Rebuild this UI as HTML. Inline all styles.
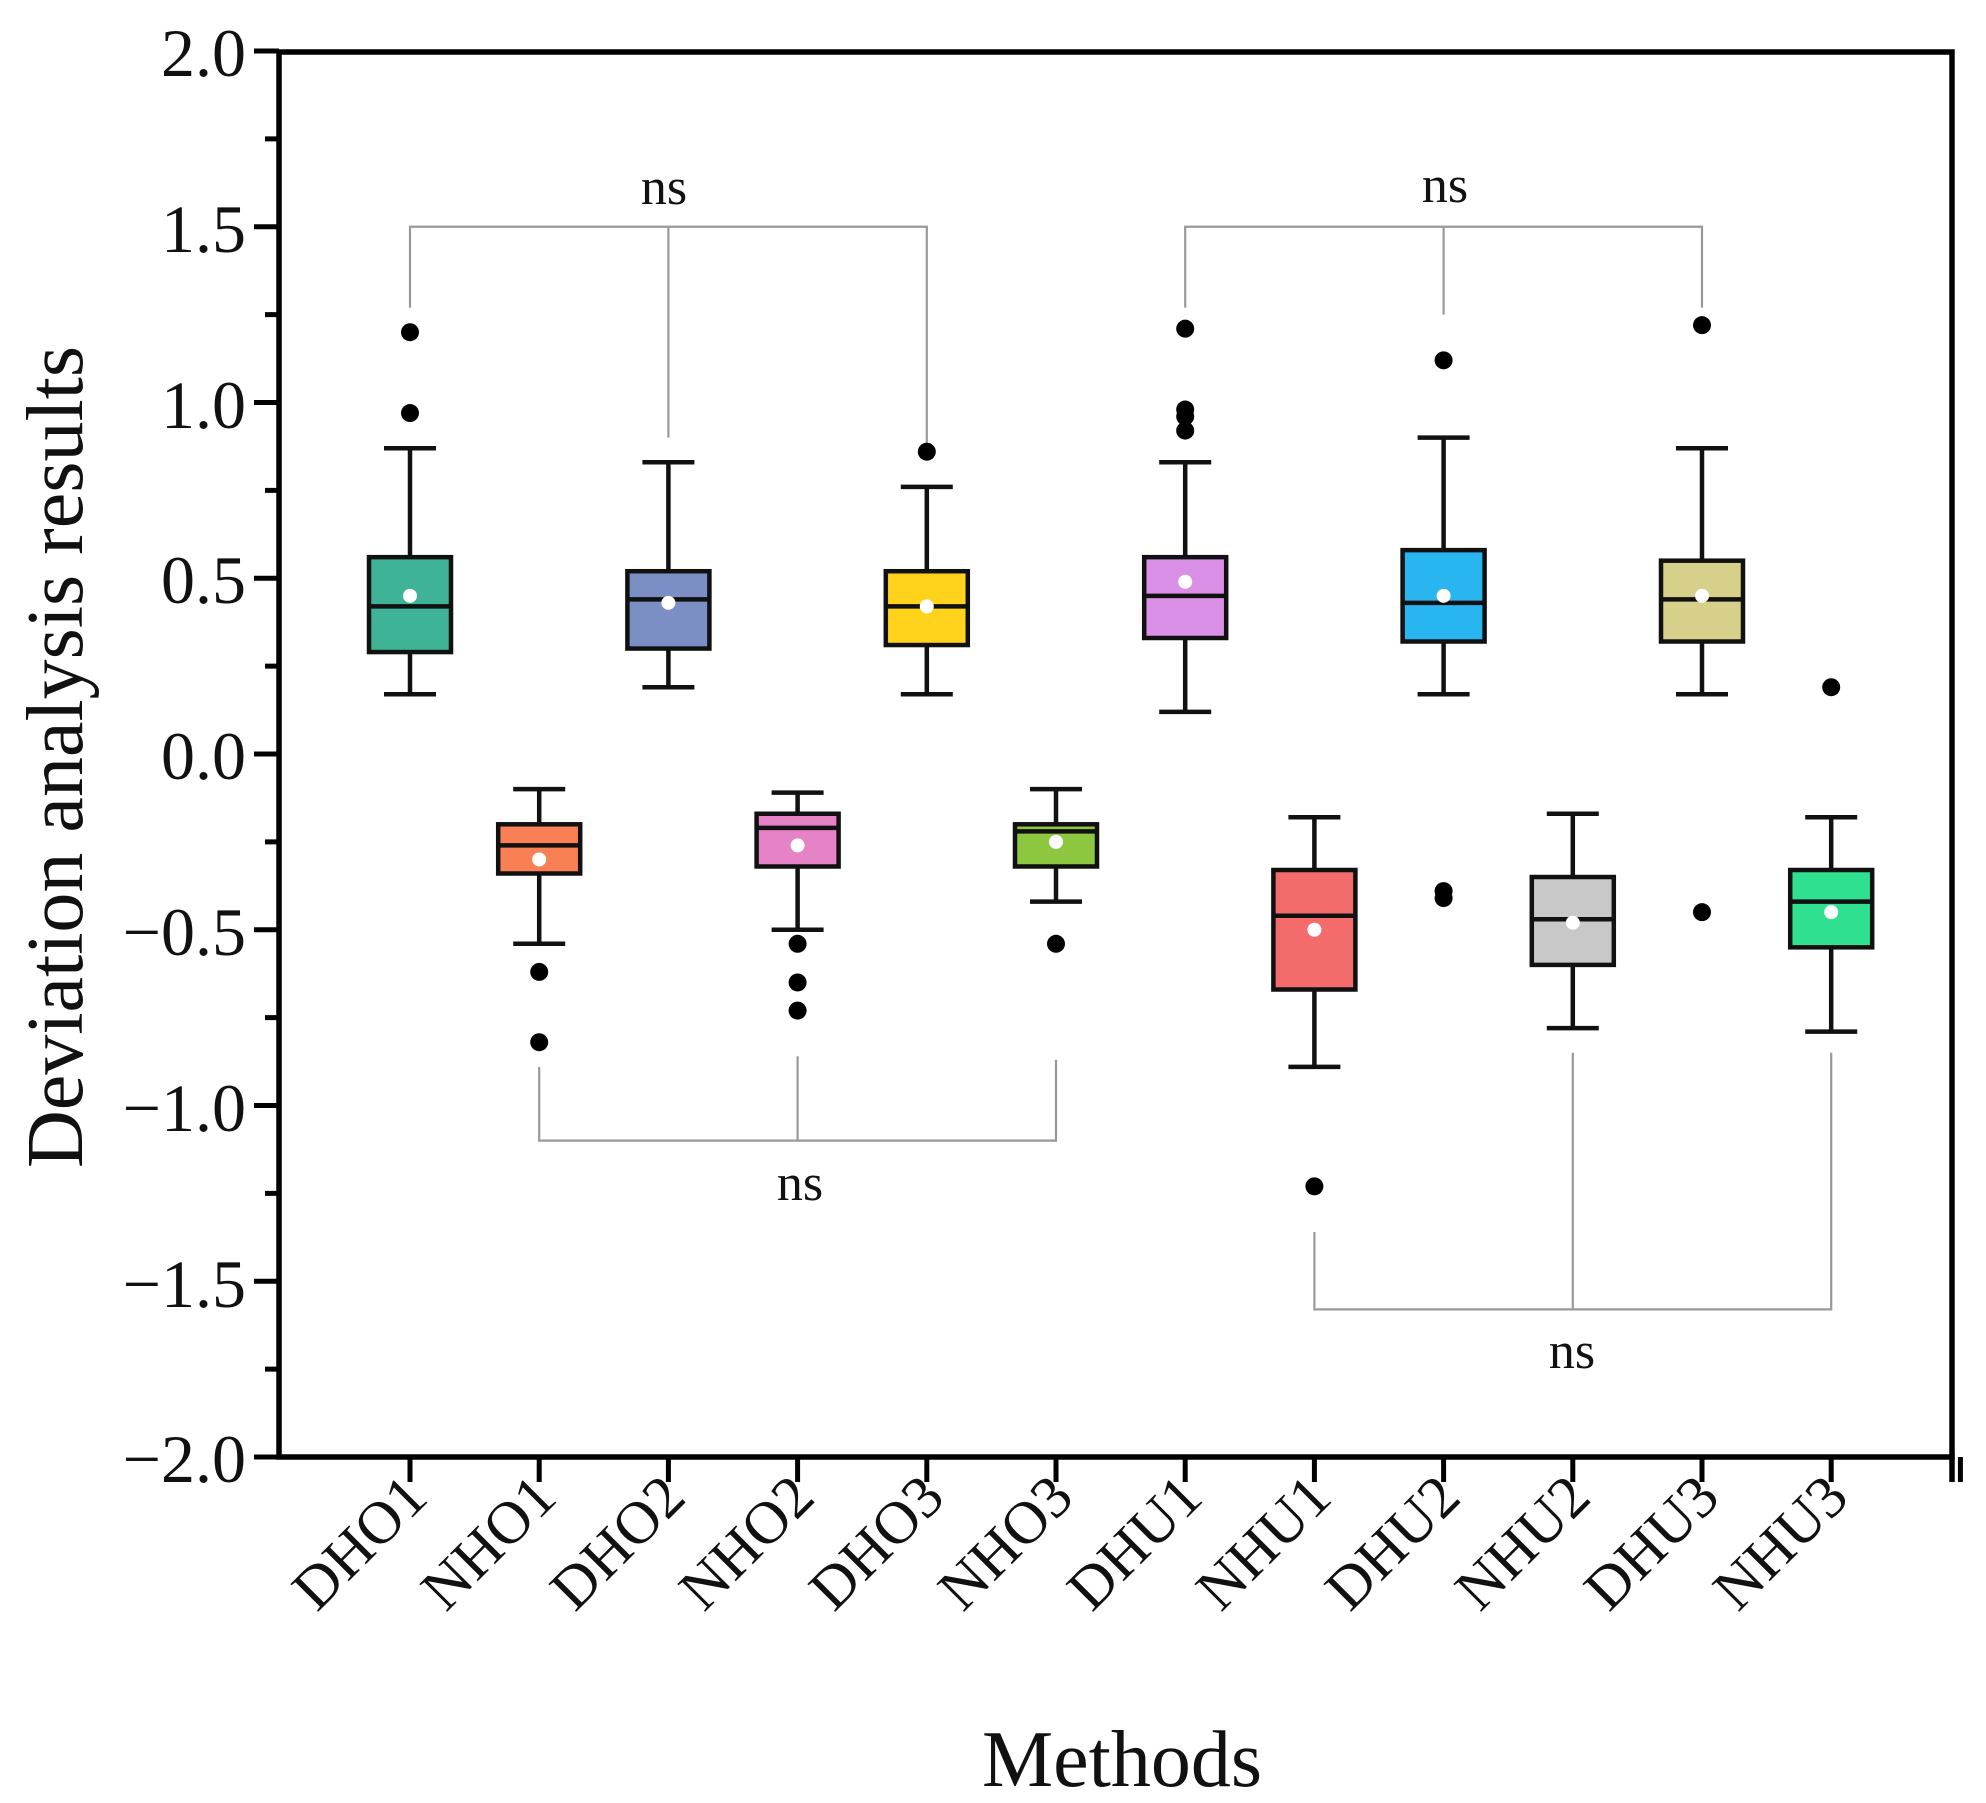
<!DOCTYPE html>
<html><head><meta charset="utf-8"><style>
html,body{margin:0;padding:0;background:#fff;}
svg{display:block;}
text{font-family:"Liberation Serif",serif;fill:#111;}
</style></head><body>
<svg id="s" width="1986" height="1803" viewBox="0 0 1986 1803" xmlns="http://www.w3.org/2000/svg">
<g id="plot"></g>
<g font-size="68" text-anchor="end">
<text x="246" y="76">2.0</text>
<text x="246" y="252">1.5</text>
<text x="246" y="428">1.0</text>
<text x="246" y="603">0.5</text>
<text x="246" y="779">0.0</text>
<text x="246" y="955">−0.5</text>
<text x="246" y="1131">−1.0</text>
<text x="246" y="1307">−1.5</text>
<text x="246" y="1482">−2.0</text>
</g>
<g font-size="60" text-anchor="end">
<text transform="translate(430,1500) rotate(-45)">DHO1</text>
<text transform="translate(559,1500) rotate(-45)">NHO1</text>
<text transform="translate(688,1500) rotate(-45)">DHO2</text>
<text transform="translate(817,1500) rotate(-45)">NHO2</text>
<text transform="translate(947,1500) rotate(-45)">DHO3</text>
<text transform="translate(1076,1500) rotate(-45)">NHO3</text>
<text transform="translate(1205,1500) rotate(-45)">DHU1</text>
<text transform="translate(1334,1500) rotate(-45)">NHU1</text>
<text transform="translate(1463,1500) rotate(-45)">DHU2</text>
<text transform="translate(1593,1500) rotate(-45)">NHU2</text>
<text transform="translate(1722,1500) rotate(-45)">DHU3</text>
<text transform="translate(1851,1500) rotate(-45)">NHU3</text>
</g>
<text x="1122" y="1786" font-size="80" text-anchor="middle">Methods</text>
<text transform="translate(82,757) rotate(-90)" font-size="80" text-anchor="middle">Deviation analysis results</text>
<g font-size="52" text-anchor="middle">
<text x="664" y="204">ns</text>
<text x="1445" y="202">ns</text>
<text x="800" y="1200">ns</text>
<text x="1572" y="1368">ns</text>
</g>
</svg>
<script>
(function(){
var g=document.getElementById('plot');var ns='http://www.w3.org/2000/svg';
function Y(v){return 754-351.5*v;}
function X(i){return 410+129.2*i;}
function el(t,a){var e=document.createElementNS(ns,t);for(var k in a)e.setAttribute(k,a[k]);g.appendChild(e);return e;}
var gray='#999';
function br(i0,i1,i2,yl,l0,l1,l2){
 el('path',{d:'M'+X(i0)+' '+Y(l0)+'V'+Y(yl)+'H'+X(i2)+'V'+Y(l2)+'M'+X(i1)+' '+Y(yl)+'V'+Y(l1),stroke:gray,'stroke-width':2.2,fill:'none'});
}
br(0,2,4,1.5,1.27,0.9,0.87);
br(6,8,10,1.5,1.27,1.25,1.27);
br(1,3,5,-1.1,-0.89,-0.86,-0.87);
br(7,9,11,-1.58,-1.36,-0.85,-0.85);
var d=[
[0.17,0.29,0.42,0.56,0.87,0.45,'#3fb396',[[0,1.2],[0,0.97]]],
[-0.54,-0.34,-0.26,-0.2,-0.1,-0.30,'#f98055',[[1,-0.62],[1,-0.82]]],
[0.19,0.30,0.44,0.52,0.83,0.43,'#7b8fc4',[]],
[-0.5,-0.32,-0.21,-0.17,-0.11,-0.26,'#e583c6',[[3,-0.54],[3,-0.65],[3,-0.73]]],
[0.17,0.31,0.42,0.52,0.76,0.42,'#ffd21c',[[4,0.86]]],
[-0.42,-0.32,-0.22,-0.2,-0.1,-0.25,'#8dc63f',[[5,-0.54]]],
[0.12,0.33,0.45,0.56,0.83,0.49,'#d98fe6',[[6,1.21],[6,0.98],[6,0.96],[6,0.92]]],
[-0.89,-0.67,-0.46,-0.33,-0.18,-0.50,'#f46b6b',[[7,-1.23]]],
[0.17,0.32,0.43,0.58,0.90,0.45,'#29b6f0',[[8,1.12],[8,-0.39],[8,-0.41]]],
[-0.78,-0.6,-0.47,-0.35,-0.17,-0.48,'#c8c8c8',[]],
[0.17,0.32,0.44,0.55,0.87,0.45,'#d6d08a',[[10,1.22],[10,-0.45]]],
[-0.79,-0.55,-0.42,-0.33,-0.18,-0.45,'#2ee08f',[[11,0.19]]]
];
d.forEach(function(b,i){
 var x=X(i),w=82,c=26;
 el('path',{d:'M'+x+' '+Y(b[0])+'V'+Y(b[1])+'M'+x+' '+Y(b[3])+'V'+Y(b[4])+'M'+(x-c)+' '+Y(b[0])+'h'+2*c+'M'+(x-c)+' '+Y(b[4])+'h'+2*c,stroke:'#111','stroke-width':4.5,fill:'none'});
 el('rect',{x:x-w/2,y:Y(b[3]),width:w,height:Y(b[1])-Y(b[3]),fill:b[6],stroke:'#111','stroke-width':4.5});
 el('line',{x1:x-w/2,x2:x+w/2,y1:Y(b[2]),y2:Y(b[2]),stroke:'#111','stroke-width':4.5});
 el('circle',{cx:x,cy:Y(b[5]),r:7,fill:'#fff'});
 b[7].forEach(function(o){el('circle',{cx:X(o[0]),cy:Y(o[1]),r:9,fill:'#000'});});
});
el('rect',{x:279,y:52,width:1673,height:1405,fill:'none',stroke:'#000','stroke-width':5.5});
for(var v=-2;v<=2.001;v+=0.25){var maj=Math.abs(v*2-Math.round(v*2))<1e-6;
 el('line',{x1:maj?254:265,x2:279,y1:Y(v),y2:Y(v),stroke:'#000','stroke-width':5});}
for(var i=0;i<=12;i++){el('line',{x1:X(i),x2:X(i),y1:1457,y2:1482,stroke:'#000','stroke-width':5});}
el('line',{x1:1952,x2:1952,y1:1454,y2:1482,stroke:'#000','stroke-width':5.5});
})();
</script>
</body></html>
